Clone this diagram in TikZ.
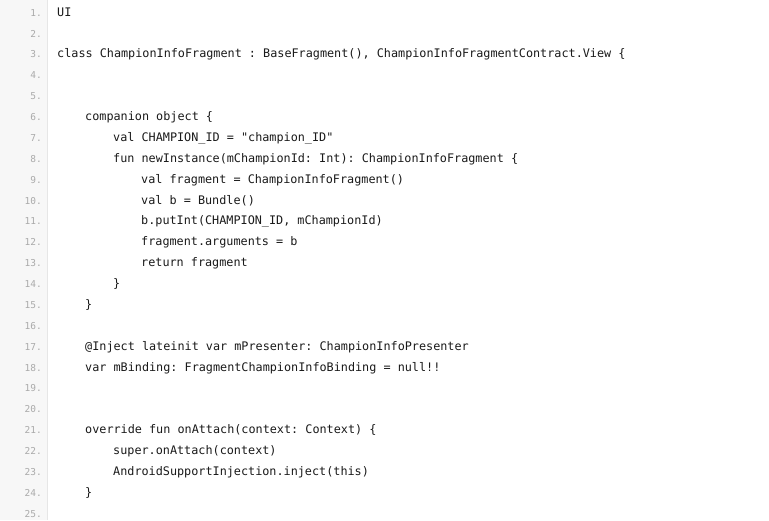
\documentclass[tikz,border=0pt]{standalone}
\usepackage{fontspec}
\setmonofont{DejaVu Sans Mono}
\definecolor{gut}{HTML}{F7F7F7}
\definecolor{gutline}{HTML}{E6E6E6}
\definecolor{num}{HTML}{AAAAAA}
\definecolor{code}{HTML}{1A1A1A}
\begin{document}
\begin{tikzpicture}[x=1pt,y=-1pt,
  lnum/.style={anchor=base east,inner sep=0pt,text=num,font=\ttfamily\fontsize{9.5}{10}\selectfont},
  ln/.style={anchor=base west,inner sep=0pt,text=code,font=\ttfamily\fontsize{11.8}{13}\selectfont}]
\fill[white] (0,0) rectangle (769,520);
\fill[gut] (0,0) rectangle (47,520);
\draw[gutline] (47,0) -- (47,520);
\foreach \i in {1,...,25}{
  \node[lnum] (n\i) at (42,{16+(\i-1)*20.875}) {\i.};
}
\newcommand{\cl}[3]{\node[ln] (l#1) at ({57+#2*28},{16+(#1-1)*20.875}) {#3};}
\cl{1}{0}{UI}
\cl{3}{0}{class ChampionInfoFragment : BaseFragment(), ChampionInfoFragmentContract.View \{}
\cl{6}{1}{companion object \{}
\cl{7}{2}{val CHAMPION\_ID = "champion\_ID"}
\cl{8}{2}{fun newInstance(mChampionId: Int): ChampionInfoFragment \{}
\cl{9}{3}{val fragment = ChampionInfoFragment()}
\cl{10}{3}{val b = Bundle()}
\cl{11}{3}{b.putInt(CHAMPION\_ID, mChampionId)}
\cl{12}{3}{fragment.arguments = b}
\cl{13}{3}{return fragment}
\cl{14}{2}{\}}
\cl{15}{1}{\}}
\cl{17}{1}{@Inject lateinit var mPresenter: ChampionInfoPresenter}
\cl{18}{1}{var mBinding: FragmentChampionInfoBinding = null!!}
\cl{21}{1}{override fun onAttach(context: Context) \{}
\cl{22}{2}{super.onAttach(context)}
\cl{23}{2}{AndroidSupportInjection.inject(this)}
\cl{24}{1}{\}}
\end{tikzpicture}
\end{document}
